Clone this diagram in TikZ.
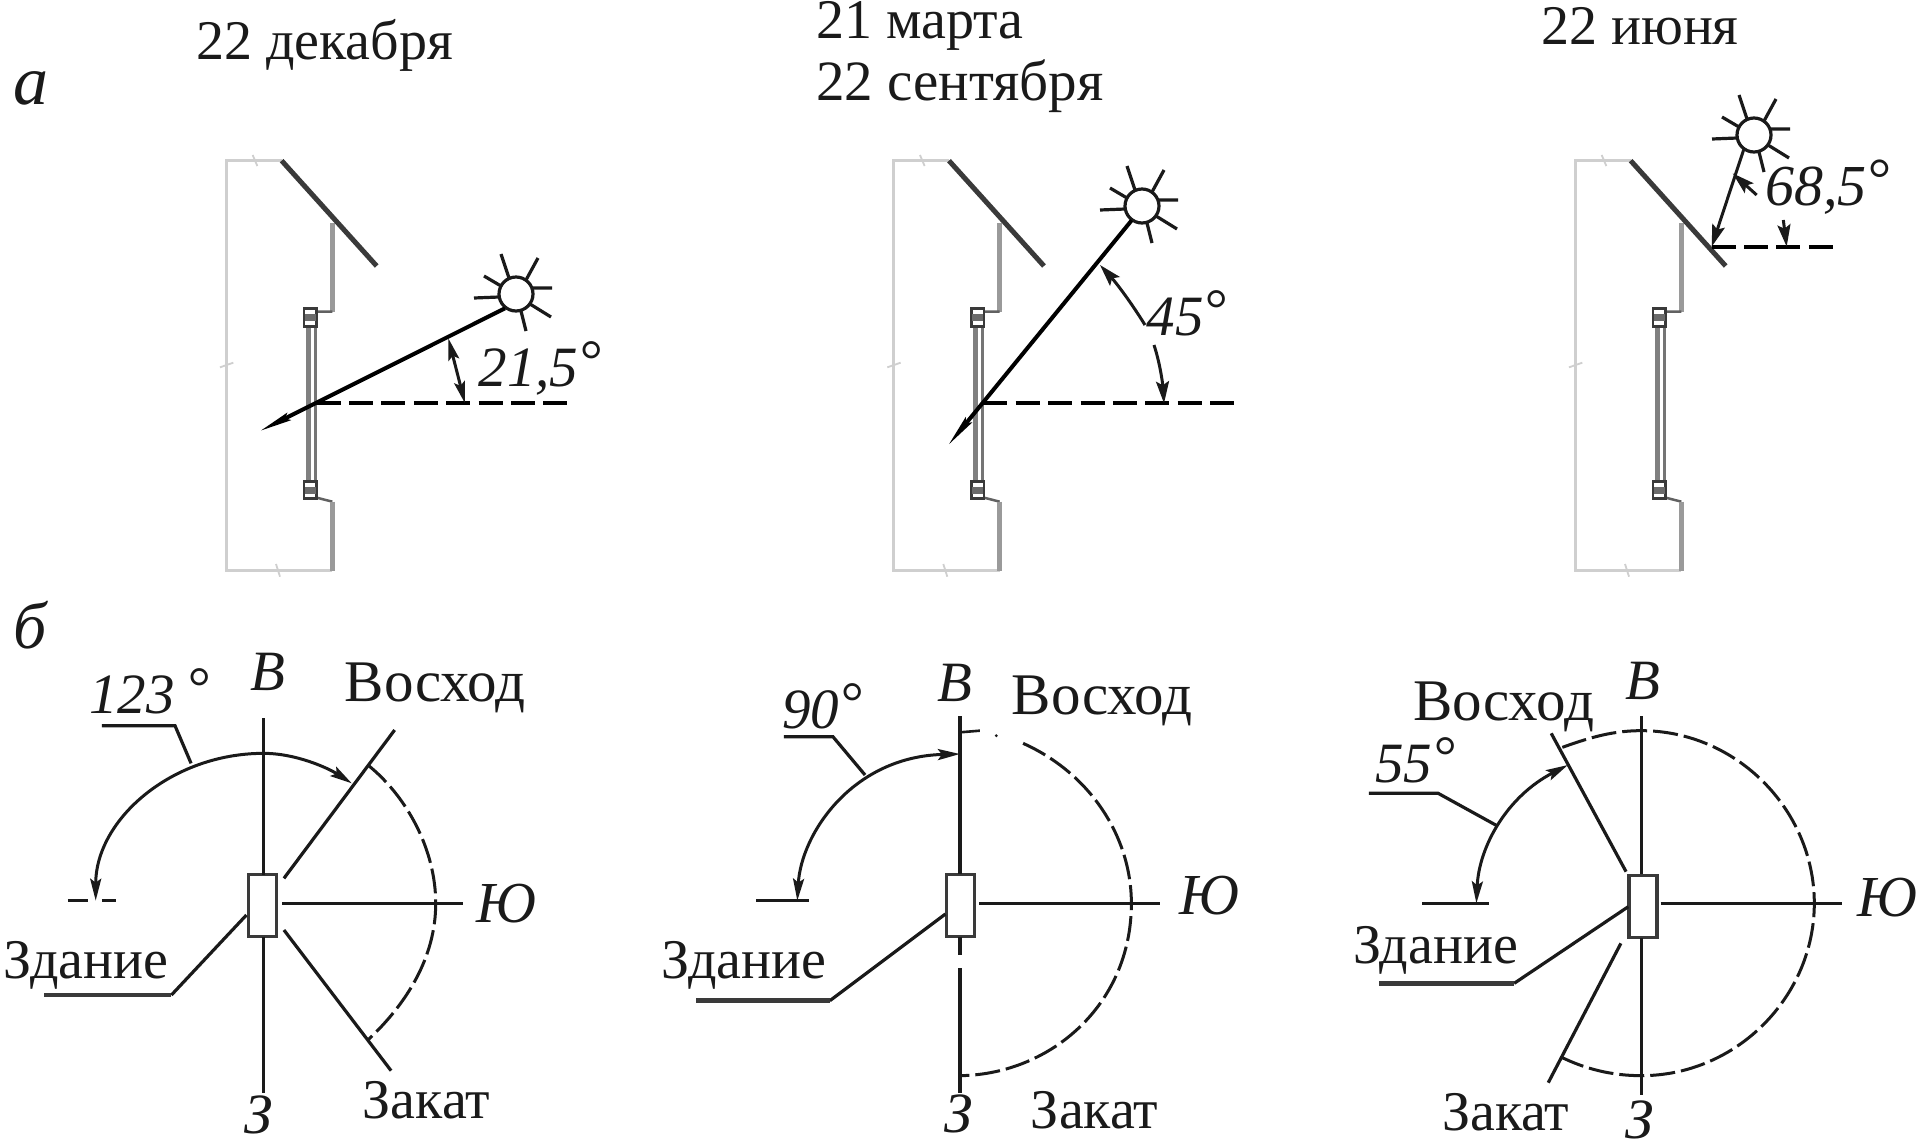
\documentclass[tikz,border=0pt]{standalone}
\usepackage{fontspec}
\setmainfont{Liberation Serif}
\usetikzlibrary{arrows.meta}
\definecolor{inkc}{HTML}{1A1A1A}
\definecolor{wallc}{HTML}{9A9A9A}
\definecolor{thinc}{HTML}{CFCFCF}
\definecolor{canc}{HTML}{3A3A3A}
\tikzset{
  txt/.style={inner sep=0pt,anchor=base west,text=inkc,font=\fontsize{#1}{60}\selectfont},
  txt/.default=56,
  itx/.style={inner sep=0pt,anchor=base west,text=inkc,font=\fontsize{#1}{60}\selectfont\itshape},
  itx/.default=57,
  ln/.style={draw=inkc,line width=3.2pt},
  ray/.style={draw=black,line width=4pt},
  leaderthick/.style={draw=canc,line width=4.5pt},
  dashln/.style={draw=black,line width=4pt,dash pattern=on 24pt off 8.4pt},
  dasharc/.style={draw=inkc,line width=3pt,dash pattern=on 25pt off 6pt},
  arcln/.style={draw=inkc,line width=3pt},
  thinw/.style={draw=thinc,line width=3pt},
  wallw/.style={draw=wallc,line width=5pt},
  wallh/.style={draw=canc!80,line width=2.5pt},
  canopy/.style={draw=canc,line width=5pt},
  bld/.style={draw=canc,line width=3.5pt,fill=white,inner sep=0pt,minimum width=28pt,minimum height=62pt},
  tipb/.style={-{Stealth[length=32pt,width=8pt,inset=4pt]}},
  tipm/.style={-{Stealth[length=22pt,width=13pt,inset=4pt]}},
  tipboth/.style={{Stealth[length=22pt,width=11pt,inset=4pt]}-{Stealth[length=22pt,width=11pt,inset=4pt]}},
  sunln/.style={draw=inkc,line width=3.2pt},
  zm/.style={x=0.33333pt,y=-0.33333pt}
}
\newcommand{\facade}[1]{%
  \begin{scope}[shift={(#1,130)},zm]
    \draw[thinw] (245,92)--(80,92)--(80,1322)--(397,1322);
    \draw[thinc,line width=1.8pt] (158,75)--(172,108) (60,712)--(100,698) (228,1302)--(240,1340);
    \draw[wallw] (397,280)--(397,545);
    \draw[wallh] (397,545)--(350,545) (350,1103)--(397,1115);
    \draw[wallw] (397,1115)--(397,1322);
    \draw[canopy] (245,92)--(530,408);
    \draw[draw=gray,line width=4.5pt] (325,590)--(325,1060);
    \draw[draw=canc!70,line width=2.5pt] (346,590)--(346,1060);
    \foreach \t/\b in {535/590,1055/1105}{
      \draw[draw=canc,line width=2.5pt,fill=white] (312,\t) rectangle (350,\b);
      \fill[canc!75] (314,\t+16) rectangle (348,\t+38);
    }
  \end{scope}}
\newcommand{\sunat}[2]{%
  \begin{scope}[shift={(#1,#2)}]
    \draw[sunln] (0,0) circle[radius=17pt];
    \draw[sunln] (-15,-40)--(-7,-16) (22,-36)--(10,-14) (36,-6)--(17,-6) (35,23)--(14,10)
                 (10,37)--(5,17) (-32,-18)--(-15,-8) (-42,4)--(-17,3);
  \end{scope}}
\begin{document}
\begin{tikzpicture}[x=1pt,y=-1pt]
\useasboundingbox (0,0) rectangle (1921,1141);
\fill[white] (0,0) rectangle (1921,1141);

% headings
\node[txt] (t1) at (196,59) {22 декабря};
\node[txt] (t2a) at (816,38) {21 марта};
\node[txt=57] (t2b) at (816,100) {22 сентября};
\node[txt] (t3) at (1541,44) {22 июня};
\node[itx=70] (pa) at (13,104) {а};
\node[itx=66] (pb) at (13,648) {б};

% panel a: facades
\facade{200}
\facade{867.3}
\facade{1549}

% a1
\sunat{516}{294}
\begin{scope}[shift={(200,130)},zm]
  \coordinate (a1s) at (915,535); \coordinate (a1e) at (180,903);
  \coordinate (a1o) at (350,820); \coordinate (a1d) at (1116,820);
  \draw[ray,tipb] (a1s)--(a1e);
  \draw[dashln] (a1o)--(a1d);
  \draw[arcln,tipboth] (745,625)--(795,820);
  \node[itx] (a1l) at (835,770) {21,5\raisebox{7pt}{°}};
\end{scope}
% a2
\sunat{1142}{206}
\begin{scope}[shift={(870,130)},zm]
  \coordinate (a2s) at (785,271); \coordinate (a2e) at (235,945);
  \coordinate (a2o) at (340,820); \coordinate (a2d) at (1112,820);
  \draw[ray,tipb] (a2s)--(a2e);
  \draw[dashln] (a2o)--(a2d);
  \draw[arcln,tipm] (825,585) .. controls (785,520) and (740,460) .. (690,405);
  \draw[arcln,tipm] (852,645) .. controls (870,700) and (878,760) .. (882,820);
  \node[itx] (a2l) at (830,615) {45\raisebox{7pt}{°}};
\end{scope}
% a3
\sunat{1754}{135}
\begin{scope}[shift={(1530,80)},zm]
  \coordinate (a3s) at (641,209); \coordinate (a3e) at (545,500);
  \coordinate (a3d) at (930,500);
  \draw[arcln,tipm] (a3s)--(a3e);
  \draw[dashln] (a3e)--(a3d);
  \draw[arcln,tipm] (680,345)--(608,280);
  \draw[arcln,tipm] (760,420)--(770,500);
  \node[itx=58] (a3l) at (705,375) {68,5\raisebox{7pt}{°}};
\end{scope}

% b1
\begin{scope}[shift={(0,630)},x=0.35714pt,y=-0.33333pt]
  \node[bld] (b1b) at (735,827) {};
  \coordinate (b1n) at (738,265); \coordinate (b1s) at (738,1390);
  \coordinate (b1e) at (1297,820);
  \draw[ln] (b1n)--(738,735);
  \draw[ln] (738,920)--(b1s);
  \draw[ln] (790,820)--(b1e);
  \draw[ln] (795,745)--(1105,300);
  \draw[ln] (795,900)--(1095,1322);
  \draw[ln] (690,855)--(480,1095);
  \draw[leaderthick] (480,1095)--(122,1095);
  \draw[ln] (285,287)--(490,287)--(535,400);
  \draw[ln] (190,812)--(245,812) (285,812)--(325,812);
  \draw[arcln,tipboth] (268,812) .. controls (268,569) and (480,370) .. (738,370) .. controls (830,370) and (920,415) .. (985,460);
  \draw[dasharc] (1030,405) .. controls (1140,500) and (1220,660) .. (1220,820) .. controls (1220,980) and (1140,1120) .. (1030,1230);
  \node[itx] (b1v) at (700,180) {В};
  \node[txt=59] (b1r) at (965,215) {Восход};
  \node[itx] (b1d) at (250,250) {123\hspace{12pt}\raisebox{7pt}{°}};
  \node[itx=58] (b1y) at (1333,878) {Ю};
  \node[txt] (b1z) at (10,1045) {Здание};
  \node[itx] (b1w) at (685,1510) {З};
  \node[txt] (b1k) at (1015,1465) {Закат};
\end{scope}

% b2
\begin{scope}[shift={(650,640)},x=0.38265pt,y=-0.33333pt]
  \node[bld] (b2b) at (811,796) {};
  \coordinate (b2n) at (810,228); \coordinate (b2s) at (810,1360);
  \coordinate (b2e) at (1332,790);
  \draw[ln] (b2n)--(810,703);
  \draw[ln] (810,890)--(810,945) (810,985)--(b2s);
  \draw[ln] (860,790)--(b2e);
  \draw[ln] (772,822)--(470,1082);
  \draw[leaderthick] (470,1082)--(120,1082);
  \draw[ln] (350,290)--(478,290)--(562,405);
  \draw[ln] (278,782)--(415,782);
  \draw[arcln,tipboth] (385,782) .. controls (395,580) and (530,350) .. (810,342);
  \draw[ln,line width=2.6pt] (810,277)--(862,272);
  \fill[inkc] (905,287) circle[radius=1.6pt];
  \draw[dasharc] (975,310) .. controls (1150,400) and (1258,590) .. (1258,790) .. controls (1258,1100) and (1040,1307) .. (805,1307);
  \draw[ln] (1258,770)--(1258,810);
  \node[itx] (b2v) at (752,185) {В};
  \node[txt=59] (b2r) at (945,222) {Восход};
  \node[itx] (b2d) at (345,265) {90\raisebox{7pt}{°}};
  \node[itx=58] (b2y) at (1382,822) {Ю};
  \node[txt] (b2z) at (30,1015) {Здание};
  \node[itx] (b2w) at (770,1478) {З};
  \node[txt] (b2k) at (995,1465) {Закат};
\end{scope}

% b3
\begin{scope}[shift={(1340,640)},x=0.37054pt,y=-0.33333pt]
  \node[bld] (b3b) at (818,799) {};
  \coordinate (b3n) at (813,228); \coordinate (b3s) at (813,1365);
  \coordinate (b3e) at (1355,790);
  \draw[ln] (b3n)--(813,703);
  \draw[ln] (813,895)--(b3s);
  \draw[ln] (865,790)--(b3e);
  \draw[ln] (772,695)--(570,280);
  \draw[ln] (758,910)--(562,1328);
  \draw[ln] (778,800)--(470,1030);
  \draw[leaderthick] (470,1030)--(105,1030);
  \draw[ln] (78,460)--(265,460)--(425,558);
  \draw[ln] (222,790)--(402,790);
  \draw[arcln,tipboth] (368,790) .. controls (375,620) and (450,470) .. (615,375);
  \draw[dasharc] (600,322) .. controls (680,290) and (740,272) .. (813,272) .. controls (1070,272) and (1280,510) .. (1280,790) .. controls (1280,1070) and (1070,1307) .. (813,1307) .. controls (730,1307) and (660,1285) .. (600,1253);
  \node[itx] (b3v) at (770,178) {В};
  \node[txt=59] (b3r) at (197,240) {Восход};
  \node[itx] (b3d) at (95,428) {55\raisebox{7pt}{°}};
  \node[itx=58] (b3y) at (1395,828) {Ю};
  \node[txt] (b3z) at (35,970) {Здание};
  \node[itx] (b3w) at (770,1495) {З};
  \node[txt] (b3k) at (275,1470) {Закат};
\end{scope}
\end{tikzpicture}
\end{document}
